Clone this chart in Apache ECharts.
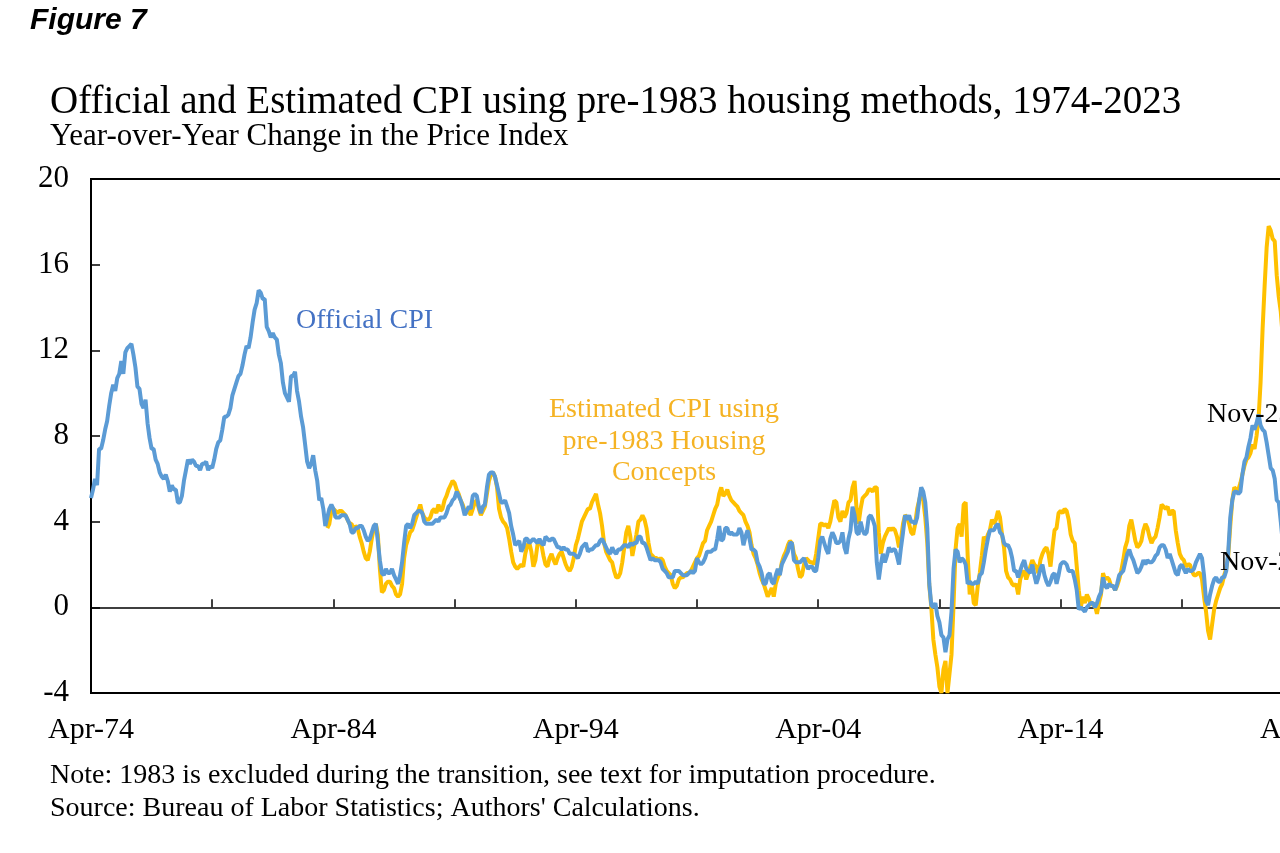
<!DOCTYPE html>
<html><head><meta charset="utf-8">
<script src="https://cdn.jsdelivr.net/npm/echarts@6/dist/echarts.min.js"></script>
<style>html,body{margin:0;padding:0;background:#fff;overflow:hidden}#c{width:1400px;height:853px}</style>
</head><body><div id="c"></div>
<script>
// Official CPI, year-over-year % change, Apr-1973 .. Dec-1982 (before the 1983 gap)
const officialPre1983 = [
 5.1,5.5,6.0,5.7,7.4,7.4,7.8,8.3,8.7,
 9.4,10.0,10.4,10.1,10.7,10.9,11.5,10.9,11.9,12.1,12.2,12.3,
 11.8,11.2,10.3,10.2,9.5,9.3,9.7,8.6,7.9,7.4,7.4,6.9,
 6.7,6.3,6.1,6.0,6.2,5.9,5.4,5.7,5.5,5.5,4.9,4.9,
 5.2,5.9,6.4,6.9,6.7,6.9,6.8,6.6,6.6,6.4,6.7,6.7,
 6.8,6.4,6.6,6.5,6.9,7.4,7.7,7.8,8.3,8.9,8.9,9.0,
 9.3,9.9,10.2,10.5,10.8,10.9,11.3,11.8,12.2,12.1,12.6,13.3,
 13.9,14.2,14.8,14.7,14.4,14.4,13.1,12.9,12.6,12.8,12.6,12.5,
 11.8,11.4,10.5,10.0,9.8,9.6,10.8,10.8,11.0,10.1,9.6,8.9,
 8.4,7.6,6.8,6.5,6.7,7.1,6.4,5.9,5.0,5.1,4.6,3.8
];
// Official CPI, Jan-1984 .. Nov-2023
const officialPost1983 = [
 4.2,4.6,4.8,4.6,4.2,4.2,4.2,4.3,4.3,4.3,4.1,3.9,
 3.5,3.5,3.7,3.7,3.8,3.8,3.6,3.3,3.1,3.2,3.5,3.8,
 3.9,3.1,2.2,1.6,1.5,1.8,1.6,1.6,1.8,1.5,1.3,1.1,
 1.5,2.1,3.0,3.8,3.9,3.7,3.9,4.3,4.4,4.5,4.5,4.4,
 4.0,3.9,3.9,3.9,3.9,4.0,4.1,4.0,4.2,4.2,4.2,4.4,
 4.7,4.8,5.0,5.1,5.4,5.2,5.0,4.7,4.3,4.5,4.7,4.6,
 5.2,5.3,5.2,4.7,4.4,4.7,4.8,5.6,6.2,6.3,6.3,6.1,
 5.7,5.3,4.9,4.9,5.0,4.7,4.4,3.8,3.4,2.9,3.0,3.1,
 2.6,2.8,3.2,3.2,3.0,3.1,3.2,3.1,3.0,3.2,3.0,2.9,
 3.3,3.2,3.1,3.2,3.2,3.0,2.8,2.8,2.7,2.8,2.7,2.7,
 2.5,2.5,2.5,2.4,2.3,2.5,2.8,2.9,3.0,2.6,2.7,2.7,
 2.8,2.9,2.9,3.1,3.2,3.0,2.8,2.6,2.5,2.8,2.6,2.5,
 2.7,2.7,2.8,2.9,2.9,2.8,3.0,2.9,3.0,3.0,3.3,3.3,
 3.0,3.0,2.8,2.5,2.2,2.3,2.2,2.2,2.2,2.1,1.8,1.7,
 1.6,1.4,1.4,1.4,1.7,1.7,1.7,1.6,1.5,1.5,1.5,1.6,
 1.7,1.6,1.7,2.3,2.1,2.0,2.1,2.3,2.6,2.6,2.6,2.7,
 2.7,3.2,3.8,3.1,3.2,3.7,3.7,3.4,3.5,3.4,3.4,3.4,
 3.7,3.5,2.9,3.3,3.6,3.2,2.7,2.7,2.6,2.1,1.9,1.6,
 1.1,1.1,1.5,1.6,1.2,1.1,1.5,1.8,1.5,2.0,2.2,2.4,
 2.6,3.0,3.0,2.2,2.1,2.1,2.1,2.2,2.3,2.0,1.8,1.9,
 1.9,1.7,1.7,2.3,3.1,3.3,3.0,2.7,2.5,3.2,3.5,3.3,
 3.0,3.0,3.1,3.5,2.8,2.5,3.2,3.6,4.7,4.3,3.5,3.4,
 4.0,3.6,3.4,3.5,4.2,4.3,4.1,3.8,2.1,1.3,2.0,2.5,
 2.1,2.4,2.8,2.6,2.7,2.7,2.4,2.0,2.8,3.5,4.3,4.1,
 4.3,4.0,4.0,3.9,4.2,5.0,5.6,5.4,4.9,3.7,1.1,0.1,
 0.0,0.2,-0.4,-0.7,-1.3,-1.4,-2.1,-1.5,-1.3,-0.2,1.8,2.7,
 2.6,2.1,2.3,2.2,2.0,1.1,1.2,1.1,1.1,1.2,1.1,1.5,
 1.6,2.1,2.7,3.2,3.6,3.6,3.6,3.8,3.9,3.5,3.4,3.0,
 2.9,2.9,2.7,2.3,1.7,1.7,1.4,1.7,2.0,2.2,1.8,1.7,
 1.6,2.0,1.5,1.1,1.4,1.8,2.0,1.5,1.2,1.0,1.2,1.5,
 1.6,1.1,1.5,2.0,2.1,2.1,2.0,1.7,1.7,1.7,1.3,0.8,
 -0.1,0.0,-0.1,-0.2,0.0,0.1,0.2,0.2,0.0,0.2,0.5,0.7,
 1.4,1.0,0.9,1.1,1.0,1.0,0.8,1.1,1.5,1.6,1.7,2.1,
 2.5,2.7,2.4,2.2,1.9,1.6,1.7,1.9,2.2,2.0,2.2,2.1,
 2.1,2.2,2.4,2.5,2.8,2.9,2.9,2.7,2.3,2.5,2.2,1.9,
 1.6,1.5,1.9,2.0,1.8,1.6,1.8,1.7,1.7,1.8,2.1,2.3,
 2.5,2.3,1.5,0.3,0.1,0.6,1.0,1.3,1.4,1.2,1.2,1.4,
 1.4,1.7,2.6,4.2,5.0,5.4,5.4,5.3,5.4,6.2,6.8,7.0,
 7.5,7.9,8.5,8.3,8.6,9.0,8.5,8.3,8.2,7.7,7.1,6.5,
 6.4,6.0,5.0,4.9,4.0,3.0,3.2,3.7,3.7,3.2,3.1
];
// Estimated CPI using pre-1983 housing concepts, Jan-1984 .. Nov-2023
const estimatedPost1983 = [
 3.7,3.9,4.5,4.6,4.5,4.4,4.5,4.5,4.4,4.3,4.1,3.9,
 3.9,3.6,3.8,3.7,3.3,3.0,2.6,2.3,2.2,2.6,3.2,3.7,
 3.9,3.4,1.8,0.7,0.8,1.1,1.2,1.2,1.0,0.9,0.6,0.5,
 0.6,1.1,2.3,2.9,3.2,3.5,3.6,3.9,4.2,4.5,4.8,4.4,
 4.2,4.1,4.1,4.2,4.5,4.6,4.4,4.8,4.5,4.6,5.0,5.2,
 5.5,5.7,5.9,5.8,5.5,5.3,5.0,4.8,4.5,4.4,4.5,4.3,
 4.6,4.9,5.0,4.6,4.3,4.5,4.7,5.3,5.9,6.2,6.3,6.1,
 5.6,4.6,4.2,4.0,3.9,3.7,3.2,2.6,2.1,1.9,1.8,1.9,
 2.0,1.9,2.5,2.9,3.0,2.6,1.9,2.2,2.9,3.1,2.9,2.4,
 2.0,1.9,2.3,2.5,2.2,2.0,2.3,2.5,2.6,2.3,2.0,1.8,
 1.7,1.9,2.3,2.9,3.2,3.6,4.0,4.2,4.4,4.6,4.6,4.9,
 5.1,5.3,4.8,4.4,3.8,3.0,2.6,2.4,2.2,2.1,1.7,1.4,
 1.4,1.6,2.1,2.8,3.5,3.8,3.3,2.4,2.9,3.4,4.0,4.1,
 4.3,4.1,3.7,3.0,2.5,2.4,2.3,2.3,2.2,2.3,2.2,1.9,
 1.7,1.6,1.5,1.1,0.9,1.0,1.3,1.4,1.4,1.5,1.6,1.6,
 1.7,1.9,2.1,2.3,2.4,2.7,3.0,3.1,3.6,3.8,4.0,4.3,
 4.6,4.8,5.3,5.6,5.2,5.3,5.5,5.2,5.0,4.9,4.8,4.7,
 4.5,4.4,4.3,4.0,3.8,3.5,2.9,2.5,2.3,2.0,1.6,1.3,
 1.1,0.8,0.5,0.7,0.9,0.5,1.1,1.4,1.6,2.1,2.4,2.6,
 2.9,3.1,3.0,2.5,2.3,1.8,1.4,1.5,2.0,2.3,2.2,2.1,
 2.1,2.0,2.5,3.2,3.9,3.9,3.8,3.9,3.7,4.0,4.5,5.0,
 4.9,4.2,4.0,4.5,4.2,4.4,4.9,5.0,5.6,5.9,4.6,3.9,
 4.6,5.1,5.2,5.3,5.5,5.5,5.4,5.6,5.6,3.5,2.5,3.0,
 3.3,3.5,3.7,3.6,3.7,3.6,3.3,2.8,3.2,3.9,4.3,4.2,
 3.9,3.5,3.4,3.9,4.6,5.0,5.4,5.0,4.2,3.0,1.0,0.0,
 -1.5,-2.2,-2.8,-3.7,-4.0,-2.9,-2.5,-4.0,-3.1,-2.2,0.1,2.7,
 3.7,3.9,3.3,4.8,4.9,2.4,0.6,1.1,0.2,0.1,1.0,1.6,
 2.4,3.3,3.1,3.4,3.6,4.1,3.9,4.1,4.5,4.2,3.4,2.8,
 1.7,1.4,1.3,1.1,1.0,1.1,0.6,1.3,1.6,1.7,1.3,1.6,
 1.9,2.2,2.0,1.9,1.6,2.2,2.5,2.7,2.8,2.5,1.9,2.8,
 3.6,3.7,4.4,4.5,4.4,4.6,4.5,4.1,3.4,3.1,3.0,1.9,
 0.8,0.0,0.5,0.2,0.6,0.4,0.1,0.2,0.1,-0.3,0.2,0.6,
 1.6,1.3,1.4,1.3,1.0,1.0,0.8,1.0,1.3,1.7,2.2,2.8,
 3.1,3.8,4.1,3.6,3.1,2.8,2.9,3.1,3.6,3.9,3.7,3.3,
 3.0,3.2,3.3,3.7,4.2,4.8,4.7,4.6,4.7,4.3,4.5,4.5,
 3.6,3.0,2.5,2.3,2.2,1.9,2.0,2.0,1.7,1.5,1.5,1.6,
 1.6,1.3,0.5,-0.2,-1.1,-1.5,-0.8,-0.1,0.3,0.6,0.9,1.1,
 1.5,1.8,2.4,3.8,5.0,5.6,5.5,5.5,5.8,6.2,6.6,6.9,
 7.0,7.2,7.6,7.4,8.0,8.8,10.5,13.0,15.0,16.8,17.8,17.6,
 17.2,17.1,15.5,14.5,13.8,12.6,11.8,11.0,10.5,10.1,9.8
];
// Category labels as printed on the axis: monthly from Apr-74, 601 slots
const monthNames = ['Jan','Feb','Mar','Apr','May','Jun','Jul','Aug','Sep','Oct','Nov','Dec'];
const firstYear = 1974, firstMonth = 3, categoryCount = 601;
const categories = [];
for (let i = 0; i < categoryCount; i++) {
  const t = firstMonth + i;
  const y = firstYear + Math.floor(t / 12);
  categories.push(monthNames[t % 12] + '-' + String(y % 100).padStart(2, '0'));
}
const yTicks = {min: -4, max: 20, step: 4};

const officialSeries = officialPre1983.concat(officialPost1983);
const estimatedSeries = officialPre1983.map(() => null).concat(estimatedPost1983);

const serif = '"Liberation Serif","Times New Roman",serif';
function txt(text, x, y, size, fill, extra) {
  return {
    type: 'text', silent: true, z: 100,
    style: Object.assign({
      text: text, x: x, y: y, fill: fill || '#000',
      font: size + 'px ' + serif,
      align: 'left', verticalAlign: 'middle',
      textAlign: 'left', textVerticalAlign: 'middle'
    }, extra || {})
  };
}

const chart = echarts.init(document.getElementById('c'), null, {renderer: 'canvas'});
chart.setOption({
  animation: false,
  backgroundColor: '#fff',
  grid: {left: 91, width: 1212, top: 179, height: 514, show: true,
         borderColor: '#000', borderWidth: 2, backgroundColor: 'transparent'},
  xAxis: [{
    type: 'category', data: categories, boundaryGap: false, position: 'bottom',
    axisLine: {show: false, onZero: false}, axisTick: {show: false},
    axisLabel: {interval: 119, color: '#000', fontSize: 30, fontFamily: serif, margin: 22},
    splitLine: {show: false}
  }, {
    type: 'category', data: categories, boundaryGap: false, position: 'bottom',
    axisLine: {show: true, onZero: true, lineStyle: {color: '#000', width: 1.5}},
    axisTick: {show: true, inside: true, interval: 59, length: 8, lineStyle: {color: '#000', width: 1.5}},
    axisLabel: {show: false}, splitLine: {show: false}
  }],
  yAxis: {
    type: 'value', min: yTicks.min, max: yTicks.max, interval: yTicks.step,
    axisLine: {show: false},
    axisTick: {show: true, inside: true, length: 9, lineStyle: {color: '#000', width: 1.5}},
    axisLabel: {color: '#000', fontSize: 31, fontFamily: serif, margin: 22},
    splitLine: {show: false}
  },
  series: [{
    name: 'Estimated CPI using pre-1983 Housing Concepts', type: 'line', xAxisIndex: 1,
    data: estimatedSeries, showSymbol: false, symbol: 'none', z: 2,
    lineStyle: {color: '#FFC000', width: 4}, connectNulls: false
  }, {
    name: 'Official CPI', type: 'line', xAxisIndex: 1,
    data: officialSeries, showSymbol: false, symbol: 'none', z: 3,
    lineStyle: {color: '#5B9BD5', width: 4}
  }],
  graphic: [
    txt('Figure 7', 30, 21, 30, '#000', {font: 'italic bold 30px "Liberation Sans",Arial,sans-serif'}),
    txt('Official and Estimated CPI using pre-1983 housing methods, 1974-2023', 50, 103, 39),
    txt('Year-over-Year Change in the Price Index', 50, 137, 31),
    txt('Official CPI', 296, 321, 28, '#4472C4'),
    txt('Estimated CPI using', 664, 410, 28, '#F5B324', {align: 'center', textAlign: 'center'}),
    txt('pre-1983 Housing', 664, 442, 28, '#F5B324', {align: 'center', textAlign: 'center'}),
    txt('Concepts', 664, 473, 28, '#F5B324', {align: 'center', textAlign: 'center'}),
    txt('Nov-23', 1207, 415, 28),
    txt('Nov-23', 1220, 563, 28),
    txt('Note: 1983 is excluded during the transition, see text for imputation procedure.', 50, 776, 28),
    txt("Source: Bureau of Labor Statistics; Authors' Calculations.", 50, 809, 28)
  ]
});
</script></body></html>
